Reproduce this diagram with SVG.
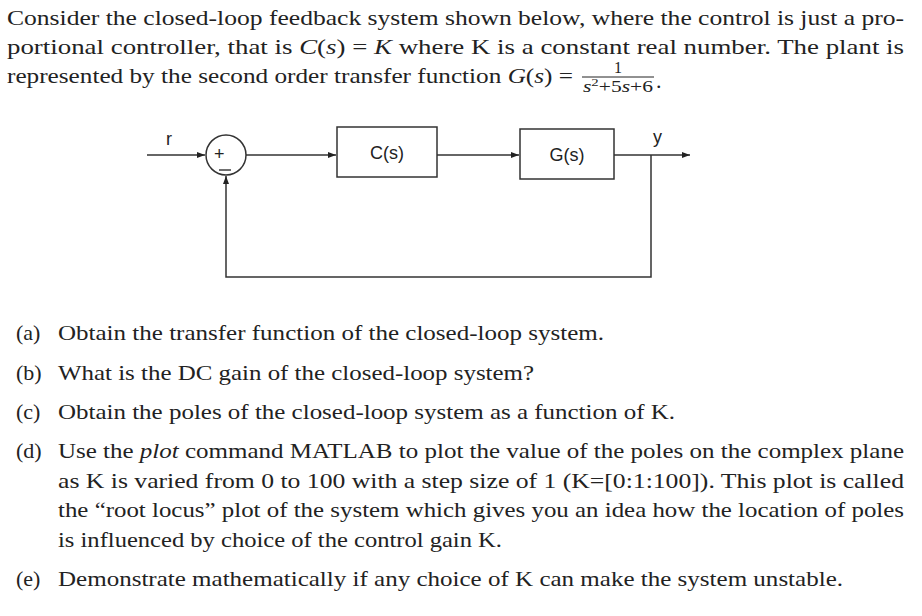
<svg xmlns="http://www.w3.org/2000/svg" width="922" height="616" viewBox="0 0 922 616">
<defs><marker id="ah" markerWidth="8" markerHeight="6" refX="8" refY="3" orient="auto" markerUnits="userSpaceOnUse"><path d="M0,0 L8,3 L0,6 z" fill="#222"/></marker></defs>
<style>
.t{font-family:"Liberation Serif",serif;font-size:22px;fill:#222}
.f{font-family:"Liberation Serif",serif;font-size:16px;fill:#222}
.s{font-family:"Liberation Sans",sans-serif;font-size:18px;fill:#222}
.b{fill:#fff;stroke:#333;stroke-width:1.5}
.c{fill:none;stroke:#333;stroke-width:1.5}
</style>
<rect width="922" height="616" fill="#fff"/>
<text class="t" x="7" y="25" textLength="897" lengthAdjust="spacingAndGlyphs">Consider the closed-loop feedback system shown below, where the control is just a pro-</text>
<text class="t" x="7" y="54" textLength="897" lengthAdjust="spacingAndGlyphs">portional controller, that is <tspan font-style="italic">C</tspan>(<tspan font-style="italic">s</tspan>) = <tspan font-style="italic">K</tspan> where K is a constant real number. The plant is</text>
<text class="t" x="7" y="83" textLength="566" lengthAdjust="spacingAndGlyphs">represented by the second order transfer function <tspan font-style="italic">G</tspan>(<tspan font-style="italic">s</tspan>) =</text>
<text class="f" x="618" y="73" text-anchor="middle">1</text>
<line x1="582" y1="77" x2="654" y2="77" stroke="#222" stroke-width="1"/>
<text class="f" x="583" y="92" textLength="70" lengthAdjust="spacingAndGlyphs"><tspan font-style="italic">s</tspan><tspan style="font-size:11px" dy="-6">2</tspan><tspan dy="6">+5</tspan><tspan font-style="italic">s</tspan>+6</text>
<text class="t" x="656" y="88">.</text>
<g id="connectors">
<line class="c" x1="147" y1="155" x2="205" y2="155" marker-end="url(#ah)"/>
<line class="c" x1="246" y1="155" x2="336" y2="155" marker-end="url(#ah)"/>
<line class="c" x1="437" y1="155" x2="519" y2="155" marker-end="url(#ah)"/>
<line class="c" x1="614" y1="155" x2="690" y2="155" marker-end="url(#ah)"/>
<polyline class="c" points="651,155 651,277 226,277 226,176" marker-end="url(#ah)"/>
</g>
<g id="sum"><circle class="b" cx="226" cy="155" r="20"/><text class="s" x="214" y="160">+</text><line x1="219" y1="170" x2="231" y2="170" stroke="#222" stroke-width="1.3"/></g>
<g id="C"><rect class="b" x="337" y="127" width="100" height="50"/><text class="s" x="387" y="159" text-anchor="middle">C(s)</text></g>
<g id="G"><rect class="b" x="520" y="129" width="94" height="50"/><text class="s" x="567" y="161" text-anchor="middle">G(s)</text></g>
<text class="s" x="166" y="145">r</text>
<text class="s" x="653" y="143">y</text>
<text class="t" x="16" y="340">(a)</text><text class="t" x="58" y="340" textLength="546" lengthAdjust="spacingAndGlyphs">Obtain the transfer function of the closed-loop system.</text>
<text class="t" x="16" y="380">(b)</text><text class="t" x="58" y="380" textLength="476" lengthAdjust="spacingAndGlyphs">What is the DC gain of the closed-loop system?</text>
<text class="t" x="16" y="419">(c)</text><text class="t" x="58" y="419" textLength="617" lengthAdjust="spacingAndGlyphs">Obtain the poles of the closed-loop system as a function of K.</text>
<text class="t" x="16" y="458">(d)</text><text class="t" x="58" y="458" textLength="846" lengthAdjust="spacingAndGlyphs">Use the <tspan font-style="italic">plot</tspan> command MATLAB to plot the value of the poles on the complex plane</text>
<text class="t" x="58" y="488" textLength="846" lengthAdjust="spacingAndGlyphs">as K is varied from 0 to 100 with a step size of 1 (K=[0:1:100]). This plot is called</text>
<text class="t" x="58" y="517" textLength="846" lengthAdjust="spacingAndGlyphs">the “root locus” plot of the system which gives you an idea how the location of poles</text>
<text class="t" x="58" y="547" textLength="444" lengthAdjust="spacingAndGlyphs">is influenced by choice of the control gain K.</text>
<text class="t" x="16" y="586">(e)</text><text class="t" x="58" y="586" textLength="785" lengthAdjust="spacingAndGlyphs">Demonstrate mathematically if any choice of K can make the system unstable.</text>
</svg>
